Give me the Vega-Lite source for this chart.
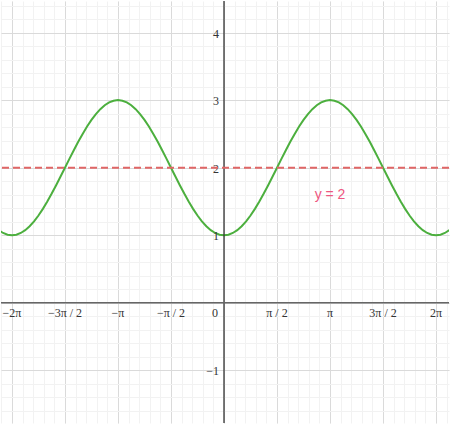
{
  "$schema": "https://vega.github.io/schema/vega-lite/v6.json",
  "width": 450,
  "height": 424,
  "autosize": {"type": "fit", "contains": "padding"},
  "padding": 0,
  "background": "white",
  "config": {"view": {"stroke": null}},
  "datasets": {
    "curve": [
      {"x": -6.6759, "y": 1.0761}, {"x": -6.5450, "y": 1.0341}, {"x": -6.4141, "y": 1.0086}, {"x": -6.2832, "y": 1},
      {"x": -6.1523, "y": 1.0086}, {"x": -6.0214, "y": 1.0341}, {"x": -5.8905, "y": 1.0761}, {"x": -5.7596, "y": 1.1340},
      {"x": -5.6287, "y": 1.2066}, {"x": -5.4978, "y": 1.2929}, {"x": -5.3669, "y": 1.3912}, {"x": -5.2360, "y": 1.5},
      {"x": -5.1051, "y": 1.6173}, {"x": -4.9742, "y": 1.7412}, {"x": -4.8433, "y": 1.8695}, {"x": -4.7124, "y": 2},
      {"x": -4.5815, "y": 2.1305}, {"x": -4.4506, "y": 2.2588}, {"x": -4.3197, "y": 2.3827}, {"x": -4.1888, "y": 2.5},
      {"x": -4.0579, "y": 2.6088}, {"x": -3.9270, "y": 2.7071}, {"x": -3.7961, "y": 2.7934}, {"x": -3.6652, "y": 2.8660},
      {"x": -3.5343, "y": 2.9239}, {"x": -3.4034, "y": 2.9659}, {"x": -3.2725, "y": 2.9914}, {"x": -3.1416, "y": 3},
      {"x": -3.0107, "y": 2.9914}, {"x": -2.8798, "y": 2.9659}, {"x": -2.7489, "y": 2.9239}, {"x": -2.6180, "y": 2.8660},
      {"x": -2.4871, "y": 2.7934}, {"x": -2.3562, "y": 2.7071}, {"x": -2.2253, "y": 2.6088}, {"x": -2.0944, "y": 2.5},
      {"x": -1.9635, "y": 2.3827}, {"x": -1.8326, "y": 2.2588}, {"x": -1.7017, "y": 2.1305}, {"x": -1.5708, "y": 2},
      {"x": -1.4399, "y": 1.8695}, {"x": -1.3090, "y": 1.7412}, {"x": -1.1781, "y": 1.6173}, {"x": -1.0472, "y": 1.5},
      {"x": -0.9163, "y": 1.3912}, {"x": -0.7854, "y": 1.2929}, {"x": -0.6545, "y": 1.2066}, {"x": -0.5236, "y": 1.1340},
      {"x": -0.3927, "y": 1.0761}, {"x": -0.2618, "y": 1.0341}, {"x": -0.1309, "y": 1.0086}, {"x": 0, "y": 1},
      {"x": 0.1309, "y": 1.0086}, {"x": 0.2618, "y": 1.0341}, {"x": 0.3927, "y": 1.0761}, {"x": 0.5236, "y": 1.1340},
      {"x": 0.6545, "y": 1.2066}, {"x": 0.7854, "y": 1.2929}, {"x": 0.9163, "y": 1.3912}, {"x": 1.0472, "y": 1.5},
      {"x": 1.1781, "y": 1.6173}, {"x": 1.3090, "y": 1.7412}, {"x": 1.4399, "y": 1.8695}, {"x": 1.5708, "y": 2},
      {"x": 1.7017, "y": 2.1305}, {"x": 1.8326, "y": 2.2588}, {"x": 1.9635, "y": 2.3827}, {"x": 2.0944, "y": 2.5},
      {"x": 2.2253, "y": 2.6088}, {"x": 2.3562, "y": 2.7071}, {"x": 2.4871, "y": 2.7934}, {"x": 2.6180, "y": 2.8660},
      {"x": 2.7489, "y": 2.9239}, {"x": 2.8798, "y": 2.9659}, {"x": 3.0107, "y": 2.9914}, {"x": 3.1416, "y": 3},
      {"x": 3.2725, "y": 2.9914}, {"x": 3.4034, "y": 2.9659}, {"x": 3.5343, "y": 2.9239}, {"x": 3.6652, "y": 2.8660},
      {"x": 3.7961, "y": 2.7934}, {"x": 3.9270, "y": 2.7071}, {"x": 4.0579, "y": 2.6088}, {"x": 4.1888, "y": 2.5},
      {"x": 4.3197, "y": 2.3827}, {"x": 4.4506, "y": 2.2588}, {"x": 4.5815, "y": 2.1305}, {"x": 4.7124, "y": 2},
      {"x": 4.8433, "y": 1.8695}, {"x": 4.9742, "y": 1.7412}, {"x": 5.1051, "y": 1.6173}, {"x": 5.2360, "y": 1.5},
      {"x": 5.3669, "y": 1.3912}, {"x": 5.4978, "y": 1.2929}, {"x": 5.6287, "y": 1.2066}, {"x": 5.7596, "y": 1.1340},
      {"x": 5.8905, "y": 1.0761}, {"x": 6.0214, "y": 1.0341}, {"x": 6.1523, "y": 1.0086}, {"x": 6.2832, "y": 1},
      {"x": 6.4141, "y": 1.0086}, {"x": 6.5450, "y": 1.0341}, {"x": 6.6759, "y": 1.0761}
    ],
    "xlabels": [
      {"x": -6.2832, "y": 0, "t": "−2π"},
      {"x": -4.7124, "y": 0, "t": "−3π / 2"},
      {"x": -3.1416, "y": 0, "t": "−π"},
      {"x": -1.5708, "y": 0, "t": "−π / 2"},
      {"x": 1.5708, "y": 0, "t": "π / 2"},
      {"x": 3.1416, "y": 0, "t": "π"},
      {"x": 4.7124, "y": 0, "t": "3π / 2"},
      {"x": 6.2832, "y": 0, "t": "2π"}
    ],
    "ylabels": [
      {"x": 0, "y": -1, "t": "−1"},
      {"x": 0, "y": 1, "t": "1"},
      {"x": 0, "y": 2, "t": "2"},
      {"x": 0, "y": 3, "t": "3"},
      {"x": 0, "y": 4, "t": "4"}
    ]
  },
  "layer": [
    {
      "data": {"name": "curve"},
      "mark": {"type": "line", "color": "#4caf3e", "strokeWidth": 2, "clip": true},
      "encoding": {
        "x": {
          "field": "x", "type": "quantitative",
          "scale": {"domain": [-6.608, 6.667], "nice": false, "zero": false},
          "axis": {
            "values": [-6.5973, -6.2832, -5.9690, -5.6549, -5.3407, -5.0265, -4.7124, -4.3982, -4.0841, -3.7699, -3.4558, -3.1416, -2.8274, -2.5133, -2.1991, -1.8850, -1.5708, -1.2566, -0.9425, -0.6283, -0.3142, 0, 0.3142, 0.6283, 0.9425, 1.2566, 1.5708, 1.8850, 2.1991, 2.5133, 2.8274, 3.1416, 3.4558, 3.7699, 4.0841, 4.3982, 4.7124, 5.0265, 5.3407, 5.6549, 5.9690, 6.2832, 6.5973],
            "grid": true, "gridColor": "#f2f2f2", "gridWidth": 1,
            "labels": false, "ticks": false, "domain": false, "title": null
          }
        },
        "y": {
          "field": "y", "type": "quantitative",
          "scale": {"domain": [-1.778, 4.467], "nice": false, "zero": false},
          "axis": {
            "values": [-1.6, -1.4, -1.2, -1, -0.8, -0.6, -0.4, -0.2, 0, 0.2, 0.4, 0.6, 0.8, 1, 1.2, 1.4, 1.6, 1.8, 2, 2.2, 2.4, 2.6, 2.8, 3, 3.2, 3.4, 3.6, 3.8, 4, 4.2, 4.4],
            "grid": true, "gridColor": "#f2f2f2", "gridWidth": 1,
            "labels": false, "ticks": false, "domain": false, "title": null
          }
        }
      }
    },
    {
      "data": {"name": "xlabels"},
      "mark": {"type": "text", "font": "Liberation Serif", "fontSize": 12, "color": "#333333", "baseline": "middle", "dy": 10},
      "encoding": {
        "x": {
          "field": "x", "type": "quantitative",
          "axis": {
            "values": [-6.2832, -4.7124, -3.1416, -1.5708, 0, 1.5708, 3.1416, 4.7124, 6.2832],
            "grid": true, "gridColor": "#dadada", "gridWidth": 1,
            "labels": false, "ticks": false, "domain": false, "title": null
          }
        },
        "y": {"field": "y", "type": "quantitative", "axis": null},
        "text": {"field": "t"}
      }
    },
    {
      "data": {"name": "ylabels"},
      "mark": {"type": "text", "font": "Liberation Serif", "fontSize": 12, "color": "#333333", "baseline": "middle", "align": "right", "dx": -5, "dy": 1},
      "encoding": {
        "x": {"field": "x", "type": "quantitative", "axis": null},
        "y": {
          "field": "y", "type": "quantitative",
          "axis": {
            "values": [-1, 0, 1, 2, 3, 4],
            "grid": true, "gridColor": "#dadada", "gridWidth": 1,
            "labels": false, "ticks": false, "domain": false, "title": null
          }
        },
        "text": {"field": "t"}
      }
    },
    {
      "data": {"values": [{"x": 0, "y": 0, "t": "0"}]},
      "mark": {"type": "text", "font": "Liberation Serif", "fontSize": 12, "color": "#333333", "baseline": "middle", "align": "center", "dx": -9, "dy": 10},
      "encoding": {
        "x": {"field": "x", "type": "quantitative", "axis": null},
        "y": {"field": "y", "type": "quantitative", "axis": null},
        "text": {"field": "t"}
      }
    },
    {
      "data": {"values": [{"x": 0}]},
      "mark": {"type": "rule", "color": "#333333", "strokeWidth": 1.3},
      "encoding": {"x": {"field": "x", "type": "quantitative", "axis": null}}
    },
    {
      "data": {"values": [{"y": 0}]},
      "mark": {"type": "rule", "color": "#666666", "strokeWidth": 1.5},
      "encoding": {"y": {"field": "y", "type": "quantitative", "axis": null}}
    },
    {
      "data": {"values": [{"y": 2}]},
      "mark": {"type": "rule", "color": "#e06666", "strokeWidth": 2, "strokeDash": [7, 4]},
      "encoding": {"y": {"field": "y", "type": "quantitative", "axis": null}}
    },
    {
      "data": {"values": [{"x": 3.1416, "y": 1.6, "t": "y = 2"}]},
      "mark": {"type": "text", "font": "Liberation Sans", "fontSize": 14, "color": "#ee5580", "baseline": "middle", "align": "center"},
      "encoding": {
        "x": {"field": "x", "type": "quantitative", "axis": null},
        "y": {"field": "y", "type": "quantitative", "axis": null},
        "text": {"field": "t"}
      }
    }
  ],
  "resolve": {"axis": {"x": "independent", "y": "independent"}}
}
